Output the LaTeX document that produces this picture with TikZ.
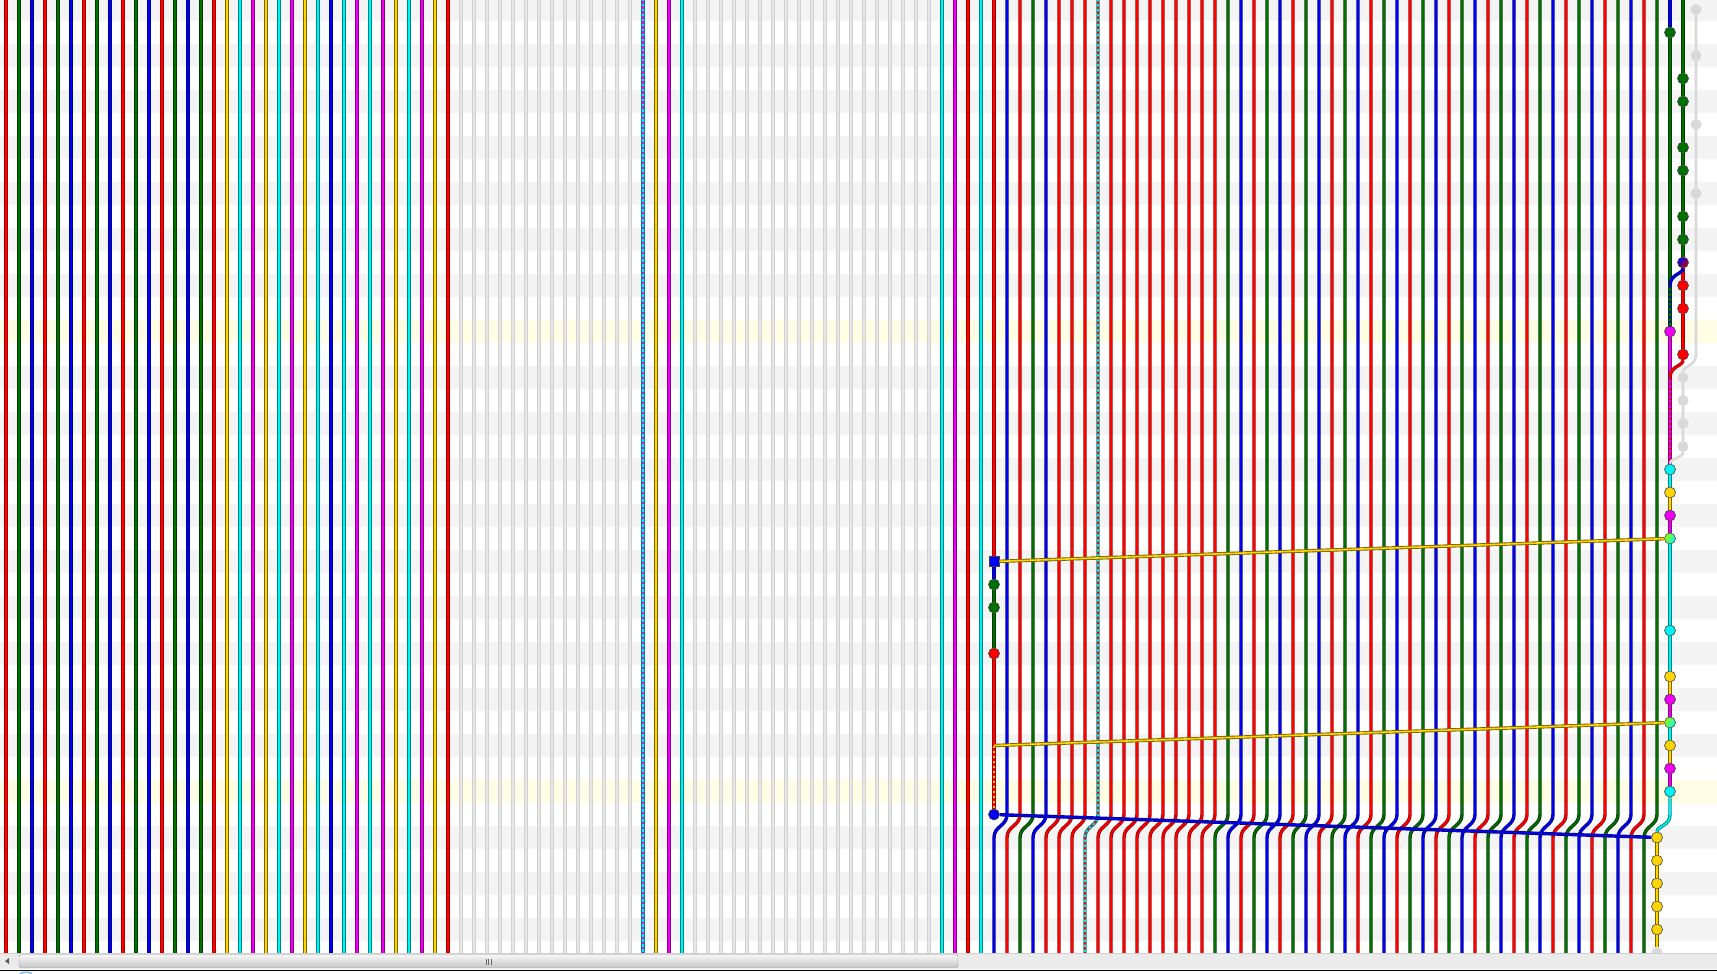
\documentclass[tikz,border=0pt]{standalone}
\usepackage{tikz}

\definecolor{gR}{HTML}{FF0000}\definecolor{dkgR}{HTML}{A00000}
\definecolor{gG}{HTML}{007000}\definecolor{dkgG}{HTML}{003A00}
\definecolor{gB}{HTML}{0000F2}\definecolor{dkgB}{HTML}{00008C}
\definecolor{gY}{HTML}{FFD400}\definecolor{dkgY}{HTML}{7A6400}
\definecolor{gC}{HTML}{00F2F2}\definecolor{dkgC}{HTML}{008585}
\definecolor{gM}{HTML}{F000F0}\definecolor{dkgM}{HTML}{850085}
\definecolor{gX}{HTML}{E6E6E6}\definecolor{dkgX}{HTML}{D2D2D2}
\definecolor{rowgray}{HTML}{F4F4F4}
\definecolor{rowmark}{HTML}{FFFDE3}

\tikzset{
  lane/.style={draw=dk#1, double=#1, line width=0.9pt, double distance=1.6pt},
  dashes/.style={draw=#1, line width=1.6pt, dash pattern=on 2.5pt off 2.5pt},
  ghostln/.style={draw=black!15, line width=2.6pt},
  commit/.style={circle, draw=black!75, line width=0.6pt, fill=#1, minimum size=11pt, inner sep=0pt},
  commit/.default=white,
  ghost/.style={circle, fill=black!15, minimum size=11pt, inner sep=0pt},
  tipbox/.style={rectangle, draw=black!75, line width=0.6pt, fill=gB, minimum size=10pt, inner sep=0pt}
}

\newcommand{\steplane}[2]{\draw[lane=#2] (#1,-1) -- (#1,35) .. controls (#1,35.5) and ({#1-1},35.5) .. ({#1-1},36) -- ({#1-1},42);}

\begin{document}
\begin{tikzpicture}[x=13pt,y=-23pt]
\useasboundingbox (0pt,0pt) rectangle (1717pt,-974pt);
\fill[white] (0pt,0pt) rectangle (1717pt,-974pt);

\begin{scope}
\clip (0pt,0pt) rectangle (1717pt,-953pt);
\begin{scope}[xshift=6pt,yshift=-9.5pt]
\foreach \r in {0,2,...,40}
  \fill[rowgray] (-1,{\r-0.5}) rectangle (133,{\r+0.5});
\foreach \r in {14,34}
  \fill[rowmark] (-1,{\r-0.5}) rectangle (133,{\r+0.5});

% lanes running straight through
\foreach \c in {35,...,48} \draw[lane=gX] (\c,-1) -- (\c,42);
\foreach \c in {53,...,71} \draw[lane=gX] (\c,-1) -- (\c,42);
\foreach \c in {0,3,...,12} \draw[lane=gR] (\c,-1) -- (\c,42);
\foreach \c in {1,4,...,13} \draw[lane=gG] (\c,-1) -- (\c,42);
\foreach \c in {2,5,...,14} \draw[lane=gB] (\c,-1) -- (\c,42);
\foreach \c/\k in {15/gG,16/gR,17/gY,18/gC,19/gM,20/gY,21/gC,22/gM,23/gY,24/gC,
  25/gB,26/gC,27/gM,28/gC,29/gM,30/gY,31/gC,32/gM,33/gY,34/gR,
  50/gY,51/gM,52/gC,72/gC,73/gM,74/gR,75/gC}
  \draw[lane=\k] (\c,-1) -- (\c,42);
\draw[lane=gC] (49,-1) -- (49,42);
\draw[dashes=gM] (49,-1) -- (49,42);

% lanes stepping one place left
\foreach \c/\k in {77/gB,78/gR,79/gG,80/gB,81/gR,82/gR,83/gR,84/gC}
  {\steplane{\c}{\k}}
\foreach \c in {85,...,93} {\steplane{\c}{gR}}
\foreach \c in {94,97,...,127} {\steplane{\c}{gG}}
\foreach \c in {95,98,...,125} {\steplane{\c}{gB}}
\foreach \c in {96,99,...,126} {\steplane{\c}{gR}}
\draw[dashes=gR] (84,-1) -- (84,35) .. controls (84,35.5) and (83,35.5) .. (83,36) -- (83,42);

% commits
\foreach \r/\k in {1/gG,14/gM,20/gC,21/gY,22/gM,27/gC,29/gY,30/gM,32/gY,33/gM,34/gC}
  \node[commit=\k] (a\r) at (128,\r) {};
\node[commit, left color=yellow!60!green, right color=cyan, shading angle=60] (a23) at (128,23) {};
\node[commit, left color=yellow!60!green, right color=cyan, shading angle=60] (a31) at (128,31) {};
\foreach \r in {3,4,6,7,9,10} \node[commit=gG] (b\r) at (129,\r) {};
\node[commit, left color=gB, right color=gR!80!black, shading angle=45] (b11) at (129,11) {};
\foreach \r in {12,13,15} \node[commit=gR] (b\r) at (129,\r) {};
\foreach \r in {16,...,19} \node[ghost] (b\r) at (129,\r) {};
\foreach \r in {0,2,5,8} \node[ghost] (c\r) at (130,\r) {};
\foreach \r in {36,...,40} \node[commit=gY] (d\r) at (127,\r) {};
\node[ghost] (d41) at (127,41) {};
\node[tipbox] (m24) at (76,24) {};
\node[commit=gG] (m25) at (76,25) {};
\node[commit=gG] (m26) at (76,26) {};
\node[commit=gR] (m28) at (76,28) {};
\node[commit=gB] (m35) at (76,35) {};

\coordinate (j12) at (128,12);
\coordinate (j16) at (128,16);
\coordinate (j35) at (128,35);
\coordinate (k15) at (130,15);
\coordinate (j32) at (76,32);

% connectors
\draw[lane=gB] (128,-1) -- (a1);
\draw[lane=gG] (a1) -- (a14);
\draw[lane=gG] (129,-1) -- (b3) -- (b4) -- (b6) -- (b7) -- (b9) -- (b10) -- (b11);
\draw[lane=gR] (b11) -- (b12) -- (b13) -- (b15);
\draw[lane=gB] (b11) .. controls (129,11.5) and (128,11.5) .. (j12);
\draw[dashes=gB] (j12) -- (a14);
\draw[lane=gM] (a14) -- (a20);
\draw[lane=gR] (b15) .. controls (129,15.5) and (128,15.5) .. (j16);
\draw[dashes=gR] (j16) -- (a20);
\draw[ghostln] (c0) -- (c2) -- (c5) -- (c8) -- (k15) .. controls (130,15.5) and (129,15.5) .. (b16)
  -- (b17) -- (b18) -- (b19) .. controls (129,19.5) and (128,19.5) .. (a20);
\foreach \u/\v/\k in {20/21/gC,21/22/gY,22/23/gM,23/27/gC,27/29/gC,29/30/gY,30/31/gM,31/32/gC,32/33/gY,33/34/gM}
  \draw[lane=\k] (a\u) -- (a\v);
\draw[lane=gC] (a34) -- (j35) .. controls (128,35.5) and (127,35.5) .. (d36);
\draw[lane=gY] (d36) -- (d37) -- (d38) -- (d39) -- (d40) -- (d41);

\draw[lane=gR] (76,-1) -- (m24);
\draw[lane=gB] (m24) -- (m25);
\draw[lane=gG] (m25) -- (m26) -- (m28);
\draw[lane=gR] (m28) -- (m35);
\draw[lane=gY] (a23) -- (m24);
\draw[lane=gY] (a31) -- (j32);
\draw[dashes=gY] (j32) -- (m35);
\draw[lane=gB] (m35) -- (d36);
\end{scope}
\end{scope}

% scroll bar
\fill[black!8] (0pt,-953pt) rectangle (1717pt,-969pt);
\draw[black!18] (0pt,-953.5pt) -- (1717pt,-953.5pt);
\shade[top color=black!3, bottom color=black!22, draw=black!38, rounded corners=1.5pt] (19pt,-954.5pt) rectangle (958pt,-967.5pt);
\draw[black!60, line width=0.7pt] (486pt,-958.5pt) -- (486pt,-964.5pt);
\draw[black!60, line width=0.7pt] (488.5pt,-958.5pt) -- (488.5pt,-964.5pt);
\draw[black!60, line width=0.7pt] (491pt,-958.5pt) -- (491pt,-964.5pt);
\fill[black!65] (5pt,-961pt) -- (9pt,-958pt) -- (9pt,-964pt) -- cycle;
\draw[black, line width=1.5pt] (0pt,-970.7pt) -- (1717pt,-970.7pt);
\draw[blue!45!cyan!70, line width=1pt] (17.3pt,-977pt) arc[start angle=150, end angle=30, radius=10pt];
\end{tikzpicture}
\end{document}
